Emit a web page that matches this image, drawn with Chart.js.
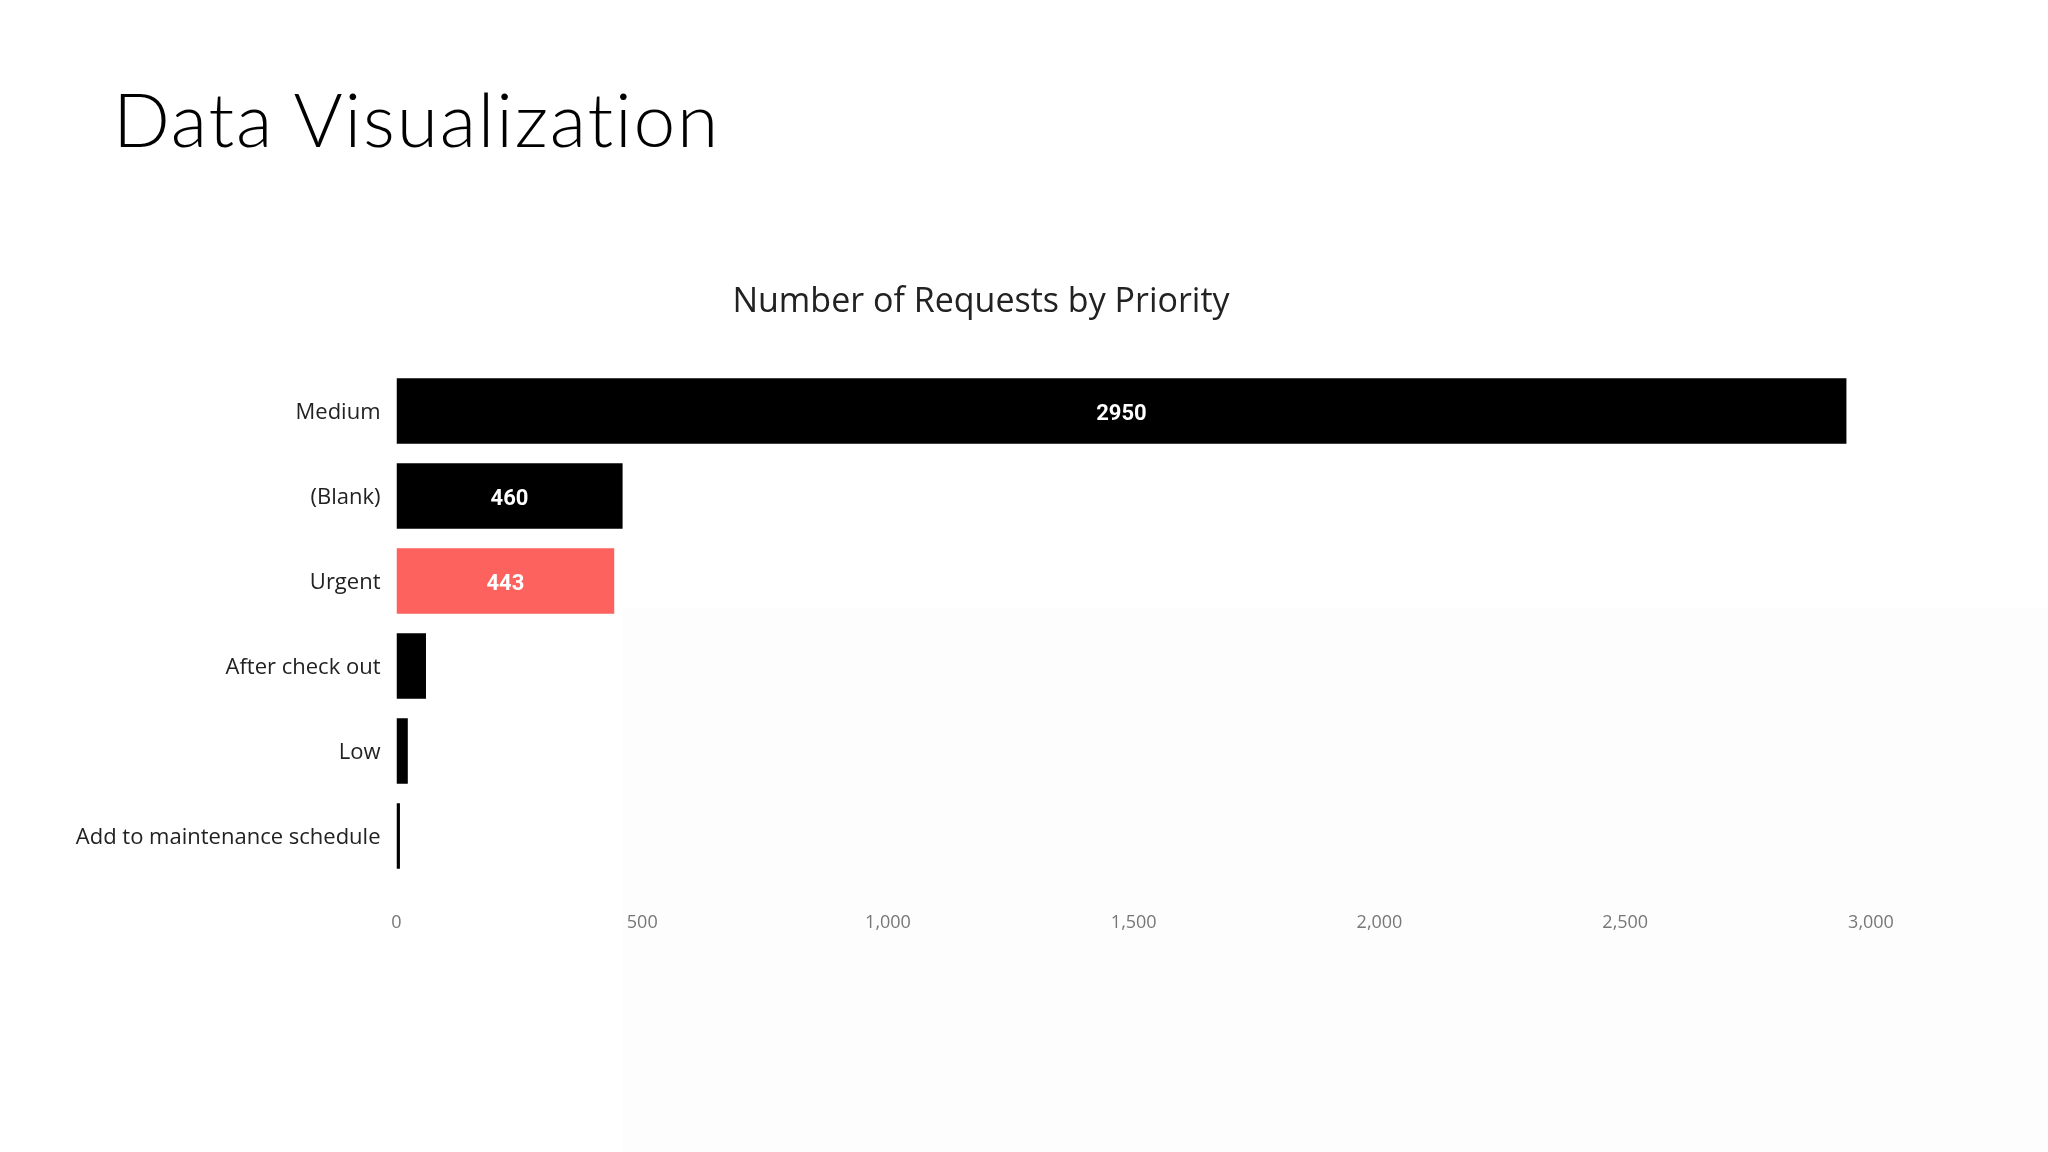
<!DOCTYPE html>
<html>
<head>
<meta charset="utf-8">
<script src="https://cdn.jsdelivr.net/npm/chart.js@4.4.1/dist/chart.umd.min.js"></script>
<style>
  html, body { margin:0; padding:0; background:#ffffff; }
  body { width:2048px; height:1152px; position:relative; overflow:hidden; }
  #tint { position:absolute; left:623px; top:608px; width:1425px; height:544px; background:#fefdfd; }
  #wrap { position:absolute; left:0; top:0; width:2048px; height:1152px; }
  #mainTitle { position:absolute; left:113px; top:73px; font-family:Lato, sans-serif; font-weight:300; font-size:75px; line-height:1.2; letter-spacing:1.8px; font-variant-ligatures:none; color:#000; white-space:nowrap; }
  #chartTitle { position:absolute; left:0; width:1962px; text-align:center; top:276px; font-family:"Open Sans", sans-serif; font-size:34px; line-height:1.362; color:#222; white-space:nowrap; }
</style>
</head>
<body>
<div id="tint"></div>
<div id="wrap"><canvas id="c" width="2048" height="1152"></canvas></div>
<div id="mainTitle">Data Visualization</div>
<div id="chartTitle">Number of Requests by Priority</div>
<script>
const categories = ["Medium", "(Blank)", "Urgent", "After check out", "Low", "Add to maintenance schedule"];
const requestCounts = [2950, 460, 443, 60, 23, 7];
const barColors = ["#000000", "#000000", "#FD625E", "#000000", "#000000", "#000000"];
const valueLabels = ["2950", "460", "443", "", "", ""];
const xTickValues = [0, 500, 1000, 1500, 2000, 2500, 3000];

const valueLabelPlugin = {
  id: 'valueLabels',
  afterDatasetsDraw(chart) {
    const ctx = chart.ctx;
    const meta = chart.getDatasetMeta(0);
    ctx.save();
    ctx.fillStyle = '#ffffff';
    ctx.font = 'bold 22px Roboto, sans-serif';
    ctx.textAlign = 'center';
    ctx.textBaseline = 'middle';
    meta.data.forEach((bar, i) => {
      const txt = valueLabels[i];
      if (!txt) return;
      ctx.fillText(txt, (bar.x + bar.base) / 2, bar.y + 3);
    });
    ctx.restore();
  }
};

new Chart(document.getElementById('c'), {
  type: 'bar',
  data: {
    labels: categories,
    datasets: [{
      data: requestCounts,
      backgroundColor: barColors,
      borderWidth: 0,
      barPercentage: 0.77,
      categoryPercentage: 1.0
    }]
  },
  options: {
    indexAxis: 'y',
    responsive: false,
    animation: false,
    layout: { padding: { left: 0, right: 177, top: 368.5, bottom: 0 } },
    plugins: { legend: { display: false }, title: { display: false }, tooltip: { enabled: false } },
    scales: {
      x: {
        min: 0, max: 3000,
        afterBuildTicks(scale) { scale.ticks = xTickValues.map(v => ({ value: v })); },
        afterFit(scale) { scale.height = 1152 - 878.5; },
        grid: { display: false, drawTicks: false },
        border: { display: false },
        ticks: {
          padding: 34,
          color: '#777777',
          font: { family: '"Open Sans", sans-serif', size: 18 },
          callback: (v) => Number(v).toLocaleString('en-US')
        }
      },
      y: {
        afterFit(scale) { scale.width = 396.5; },
        grid: { display: false, drawTicks: false },
        border: { display: false },
        ticks: {
          padding: 16,
          labelOffset: 2,
          color: '#222222',
          font: { family: '"Open Sans", sans-serif', size: 22 }
        }
      }
    }
  },
  plugins: [valueLabelPlugin]
});
</script>
</body>
</html>
